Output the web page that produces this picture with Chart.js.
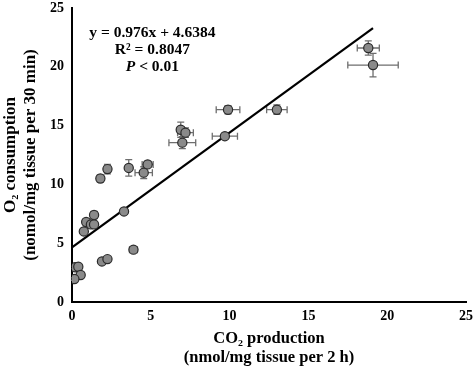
<!DOCTYPE html>
<html>
<head>
<meta charset="utf-8">
<script src="https://cdn.jsdelivr.net/npm/chart.js@4/dist/chart.umd.min.js"></script>
<style>
  body { margin: 0; background: #fff; }
  #wrap { width: 474px; height: 368px; }
</style>
</head>
<body>
<div id="wrap"><canvas id="chart" width="474" height="368"></canvas></div>
<script>
// Valeurs (CO2 en x, O2 en y)
var co2 = [18.8, 19.1, 9.9, 13.0, 6.9, 7.2, 7.0, 9.7, 4.8, 4.55, 3.6, 2.25, 1.8, 3.3, 1.4, 0.9, 1.2, 1.4, 0.75, 3.9, 1.9, 2.25, 0.2, 0.4, 0.55, 0.15];
var o2 = [21.6, 20.15, 16.35, 16.35, 14.65, 14.4, 13.55, 14.1, 11.7, 11.0, 11.4, 11.3, 10.5, 7.7, 7.4, 6.8, 6.6, 6.6, 6.0, 4.45, 3.45, 3.65, 2.95, 3.0, 2.3, 1.95];
var co2Err = [0.7, 1.6, 0.75, 0.65, 0.2, 0.5, 0.85, 0.8, 0.35, 0.55, 0.15, 0.2, 0.15, 0.2, 0.1, 0.1, 0.1, 0.1, 0.1, 0.25, 0.1, 0.1, 0.1, 0.1, 0.1, 0.1];
var o2Err = [0.6, 1.0, 0.35, 0.4, 0.65, 0.4, 0.5, 0.15, 0.25, 0.5, 0.7, 0.4, 0.3, 0.15, 0.3, 0.2, 0.2, 0.2, 0.2, 0.15, 0.1, 0.1, 0.1, 0.1, 0.1, 0.1];

// Droite de régression (extrémités)
var trendX = [0, 19.1];
var trendY = [4.64, 23.28];

var annotLines = ['y = 0.976x + 4.6384', 'R\u00b2 = 0.8047', '< 0.01'];

var points = co2.map(function (x, i) { return { x: x, y: o2[i] }; });
var trendPoints = trendX.map(function (x, i) { return { x: x, y: trendY[i] }; });

var serif = "'Liberation Serif', 'Times New Roman', serif";

// Dessine les barres d'erreur avant les points
var errorBars = {
    id: 'errorBars',
    beforeDatasetsDraw: function (chart) {
        var ctx = chart.ctx;
        var xs = chart.scales.x, ys = chart.scales.y;
        var cap = 3.5;
        ctx.save();
        ctx.strokeStyle = '#6e6e6e';
        ctx.lineWidth = 1.3;
        points.forEach(function (p, i) {
            var px = xs.getPixelForValue(p.x), py = ys.getPixelForValue(p.y);
            var x1 = xs.getPixelForValue(p.x - co2Err[i]), x2 = xs.getPixelForValue(p.x + co2Err[i]);
            var y1 = ys.getPixelForValue(p.y - o2Err[i]), y2 = ys.getPixelForValue(p.y + o2Err[i]);
            ctx.beginPath();
            ctx.moveTo(x1, py); ctx.lineTo(x2, py);
            ctx.moveTo(x1, py - cap); ctx.lineTo(x1, py + cap);
            ctx.moveTo(x2, py - cap); ctx.lineTo(x2, py + cap);
            ctx.moveTo(px, y1); ctx.lineTo(px, y2);
            ctx.moveTo(px - cap, y1); ctx.lineTo(px + cap, y1);
            ctx.moveTo(px - cap, y2); ctx.lineTo(px + cap, y2);
            ctx.stroke();
        });
        ctx.restore();
    }
};

// Texte de l'équation en haut à gauche
var equation = {
    id: 'equation',
    afterDraw: function (chart) {
        var ctx = chart.ctx;
        var cx = chart.scales.x.getPixelForValue(5.1);
        var f = 'bold 15.5px ' + serif;
        var fi = 'italic bold 15.5px ' + serif;
        ctx.save();
        ctx.fillStyle = '#000';
        ctx.textBaseline = 'middle';
        ctx.textAlign = 'center';
        ctx.font = f;
        ctx.fillText(annotLines[0], cx, chart.scales.y.getPixelForValue(22.85));
        ctx.fillText(annotLines[1], cx, chart.scales.y.getPixelForValue(21.4));
        var yP = chart.scales.y.getPixelForValue(19.95);
        ctx.font = fi;
        var wP = ctx.measureText('P ').width;
        ctx.font = f;
        var wR = ctx.measureText(annotLines[2]).width;
        var start = cx - (wP + wR) / 2;
        ctx.textAlign = 'left';
        ctx.font = fi;
        ctx.fillText('P ', start, yP);
        ctx.font = f;
        ctx.fillText(annotLines[2], start + wP, yP);
        ctx.restore();
    }
};

var chart = new Chart(document.getElementById('chart').getContext('2d'), {
    type: 'scatter',
    data: {
        datasets: [{
            data: points,
            backgroundColor: '#8a8a8a',
            borderColor: '#2b2b2b',
            borderWidth: 1.2,
            pointRadius: 4.6,
            order: 1
        }, {
            type: 'line',
            data: trendPoints,
            borderColor: '#000',
            borderWidth: 2.2,
            pointRadius: 0,
            fill: false,
            order: 2
        }]
    },
    options: {
        responsive: false,
        devicePixelRatio: 1,
        animation: false,
        layout: { padding: { left: 0, right: 8, top: 8, bottom: 0 } },
        plugins: { legend: { display: false }, tooltip: { enabled: false } },
        scales: {
            x: {
                type: 'linear',
                min: 0, max: 25,
                grid: { display: false, drawTicks: false },
                border: { display: true, color: '#000', width: 2 },
                ticks: { stepSize: 5, color: '#000', padding: 6, font: { family: serif, size: 14, weight: 'bold' } },
                title: {
                    display: true,
                    text: ['CO\u2082 production', '(nmol/mg tissue per 2 h)'],
                    color: '#000',
                    font: { family: serif, size: 16.5, weight: 'bold' },
                    padding: { top: 4, bottom: 0 }
                },
                afterFit: function (scale) {
                    scale.height = 66;
                    scale.paddingLeft = 0;
                    scale.paddingRight = 0;
                }
            },
            y: {
                type: 'linear',
                min: 0, max: 25,
                grid: { display: false, drawTicks: false },
                border: { display: true, color: '#000', width: 2 },
                ticks: { stepSize: 5, color: '#000', padding: 8, font: { family: serif, size: 14, weight: 'bold' } },
                title: {
                    display: true,
                    text: ['O\u2082 consumption', '(nomol/mg tissue per 30 min)'],
                    color: '#000',
                    font: { family: serif, size: 17, weight: 'bold' },
                    padding: { top: 0, bottom: 4 }
                },
                afterFit: function (scale) {
                    scale.width = 72;
                    scale.paddingTop = 0;
                    scale.paddingBottom = 0;
                }
            }
        }
    },
    plugins: [errorBars, equation]
});
</script>
</body>
</html>
